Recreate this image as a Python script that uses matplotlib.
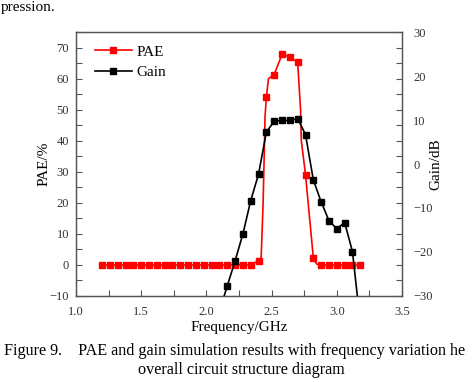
import matplotlib
matplotlib.use("Agg")
import matplotlib.pyplot as plt
from matplotlib.ticker import MultipleLocator, FixedLocator

plt.rcParams['font.family'] = ['Liberation Serif', 'DejaVu Serif']

# ---- data ----
# marker grid (GHz)
pae_marker_freq = [1.20, 1.26, 1.32, 1.38, 1.44, 1.50, 1.56, 1.62, 1.68, 1.74,
                   1.80, 1.86, 1.92, 1.98, 2.04, 2.10, 2.16, 2.22, 2.28, 2.34,
                   2.40, 2.46, 2.52, 2.58, 2.64, 2.70, 2.76, 2.82, 2.88, 2.94,
                   3.00, 3.06, 3.12, 3.18]
pae_marker_val = [0, 0, 0, 0, 0, 0, 0, 0, 0, 0,
                  0, 0, 0, 0, 0, 0, 0, 0, 0, 0,
                  1.4, 54.0, 61.3, 67.8, 67.0, 65.2, 29.1, 2.3, 0, 0,
                  0, 0, 0, 0]
# extra (unmarked) points of the PAE trace between markers
pae_extra_freq = [2.42, 2.435, 2.45, 2.476, 2.722, 2.728, 2.845]
pae_extra_val = [2.5, 20.0, 48.0, 60.0, 50.0, 40.0, 0.3]

gain_freq = [2.10, 2.16, 2.22, 2.28, 2.34, 2.40, 2.46, 2.52, 2.58, 2.64,
             2.70, 2.76, 2.82, 2.88, 2.94, 3.00, 3.06, 3.12, 3.18]
gain_db = [-33.5, -27.7, -22.0, -15.9, -8.3, -2.3, 7.3, 9.7, 9.9, 9.9,
           10.3, 6.7, -3.6, -8.6, -12.9, -14.7, -13.3, -19.9, -36.0]

series_names = ["PAE", "Gain"]
x_ticks = [1.0, 1.5, 2.0, 2.5, 3.0, 3.5]
left_ticks = [-10, 0, 10, 20, 30, 40, 50, 60, 70]
right_ticks = [-30, -20, -10, 0, 10, 20, 30]

# merge PAE trace
pts = sorted(zip(pae_marker_freq + pae_extra_freq, pae_marker_val + pae_extra_val))
pae_line_f = [p[0] for p in pts]
pae_line_v = [p[1] for p in pts]
marker_idx = [pae_line_f.index(f) for f in pae_marker_freq]

W, H = 474, 382
fig = plt.figure(figsize=(W / 100, H / 100), dpi=100)
ax = fig.add_axes([76 / W, 1 - 296 / H, (402 - 76) / W, (296 - 32) / H])
ax2 = ax.twinx()

gray = '#555555'
tcol = '#333333'

l1, = ax.plot(pae_line_f, pae_line_v, color='#ff0000', lw=1.2, marker='s',
              ms=3.8, markevery=marker_idx, label=series_names[0], zorder=3)
l2, = ax2.plot(gain_freq, gain_db, color='black', lw=1.2, marker='s', ms=3.8,
               label=series_names[1], zorder=3)

ax.set_xlim(1.0, 3.5)
ax.set_ylim(-10, 75)
ax2.set_ylim(-30, 30)

ax.xaxis.set_major_locator(FixedLocator(x_ticks))
ax.xaxis.set_minor_locator(MultipleLocator(0.25))
ax.set_xticklabels([f"{t:.1f}" for t in x_ticks])
ax.yaxis.set_major_locator(FixedLocator(left_ticks))
ax.yaxis.set_minor_locator(MultipleLocator(5))
ax.tick_params(axis='both', which='both', direction='in', colors=gray,
               labelcolor=tcol, labelsize=9)
ax.tick_params(axis='y', which='both', left=True, right=True, labelright=False)
ax.tick_params(axis='x', which='both', top=False, pad=7)
ax.tick_params(axis='y', pad=5)
ax.tick_params(which='major', length=4, width=0.8)
ax.tick_params(which='minor', length=4, width=0.8)

ax2.yaxis.set_major_locator(FixedLocator(right_ticks))
ax2.tick_params(axis='y', length=0, pad=8, labelsize=9, labelcolor=tcol)

for a in (ax, ax2):
    for s in a.spines.values():
        s.set_color(gray)
        s.set_linewidth(0.9)

ax.set_xlabel("Frequency/GHz", fontsize=11, labelpad=2)
ax.set_ylabel("PAE/%", fontsize=11, labelpad=-1)
ax2.set_ylabel("Gain/dB", fontsize=11, labelpad=-2)

ax.legend(handles=[l1, l2], loc='upper left', frameon=False, fontsize=11,
          handlelength=2.4, handletextpad=0.3, labelspacing=0.45,
          bbox_to_anchor=(0.03, 0.985), borderaxespad=0.2)

# surrounding page text
fig.text(1 / W, 1 - 11 / H, "pression.", fontsize=11, ha='left', va='baseline')
fig.text(4 / W, 1 - 355 / H,
         "Figure 9.    PAE and gain simulation results with frequency variation he",
         fontsize=11.6, ha='left', va='baseline')
fig.text(241 / W, 1 - 374 / H, "overall circuit structure diagram",
         fontsize=11.6, ha='center', va='baseline')

fig.savefig("out.png", dpi=100)
